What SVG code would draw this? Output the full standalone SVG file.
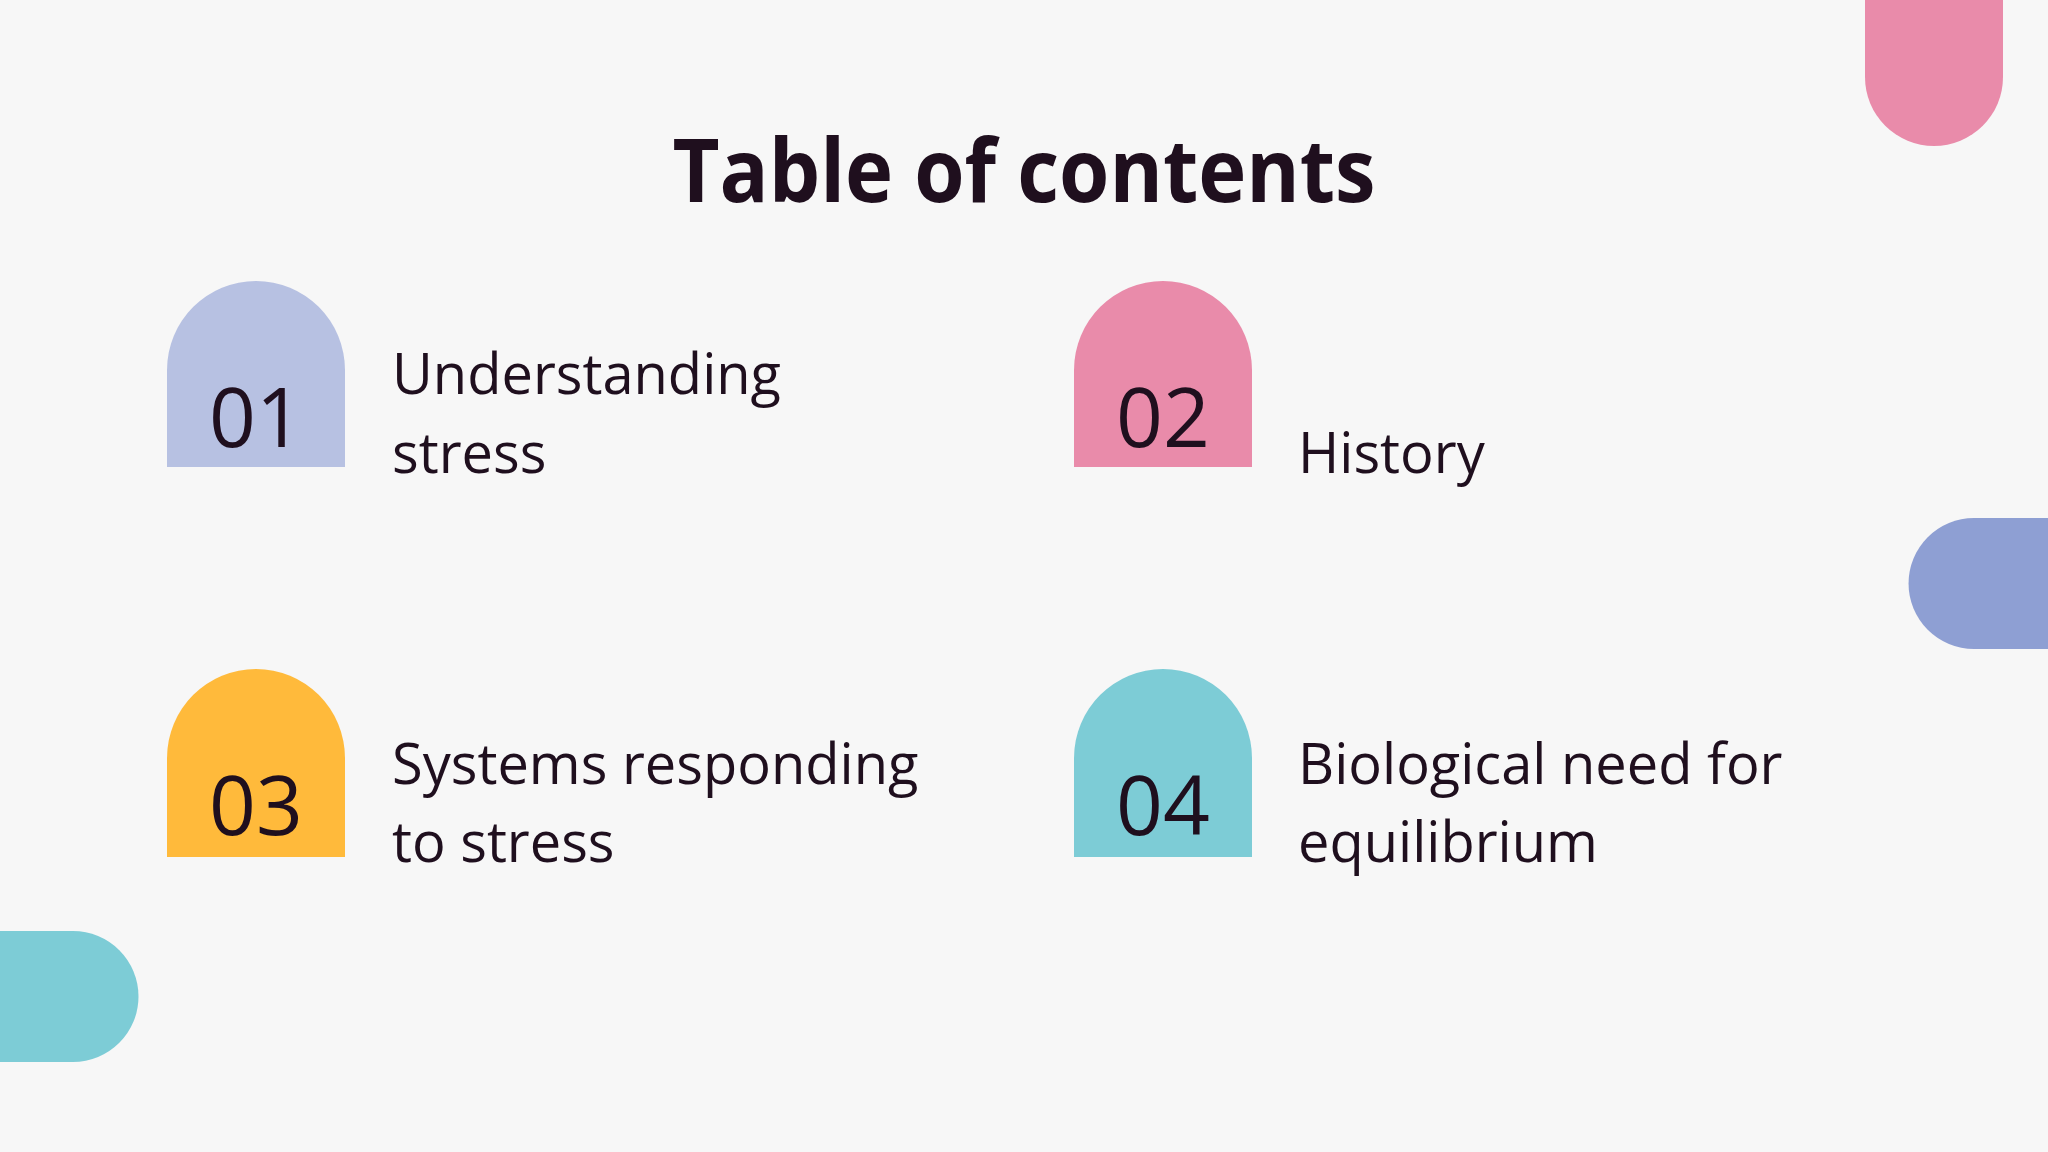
<svg xmlns="http://www.w3.org/2000/svg" width="2048" height="1152" viewBox="0 0 2048 1152">
<style>
.t{font-family:"Open Sans","Liberation Sans",sans-serif;fill:#1F0F1E}
.n{font-family:"Open Sans","Liberation Sans",sans-serif;fill:#1F0F1E;font-size:82px;text-anchor:middle}
.l{font-size:56px}
</style>
<rect width="2048" height="1152" fill="#F7F7F7"/>
<path d="M1865 -10 H2003 V77 A69 69 0 0 1 1865 77 Z" fill="#E98BAA"/>
<path d="M2058 518 H1974 A65.5 65.5 0 0 0 1974 649 H2058 Z" fill="#8E9FD3"/>
<path d="M-10 931 H73 A65.5 65.5 0 0 1 73 1062 H-10 Z" fill="#7DCCD6"/>
<text class="t" x="1024" y="202" font-size="88" font-weight="bold" text-anchor="middle" textLength="703" lengthAdjust="spacingAndGlyphs">Table of contents</text>
<g id="n01">
<path d="M167 467 V370 A89 89 0 0 1 345 370 V467 Z" fill="#B7C1E2"/>
<text class="n" x="256" y="447">01</text>
<text class="t l" x="392" y="394">Understanding</text>
<text class="t l" x="392" y="473">stress</text>
</g>
<g id="n02">
<path d="M1074 467 V370 A89 89 0 0 1 1252 370 V467 Z" fill="#E98BAA"/>
<text class="n" x="1163" y="447">02</text>
<text class="t l" x="1298" y="473">History</text>
</g>
<g id="n03">
<path d="M167 857 V758 A89 89 0 0 1 345 758 V857 Z" fill="#FFBA3B"/>
<text class="n" x="256" y="835">03</text>
<text class="t l" x="392" y="784">Systems responding</text>
<text class="t l" x="392" y="862">to stress</text>
</g>
<g id="n04">
<path d="M1074 857 V758 A89 89 0 0 1 1252 758 V857 Z" fill="#7DCCD6"/>
<text class="n" x="1163" y="835">04</text>
<text class="t l" x="1298" y="784">Biological need for</text>
<text class="t l" x="1298" y="862">equilibrium</text>
</g>
<g id="connectors"/>
</svg>
